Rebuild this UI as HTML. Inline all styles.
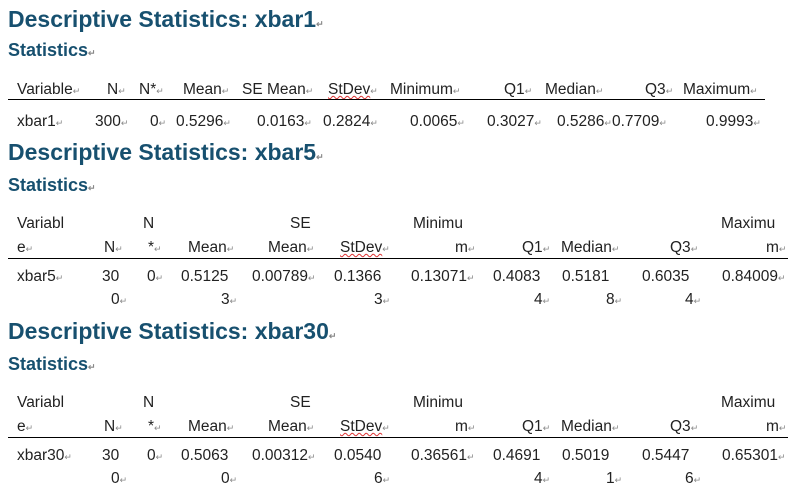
<!DOCTYPE html>
<html><head><meta charset="utf-8"><style>
body{margin:0;width:799px;height:493px;background:#fff;position:relative;overflow:hidden;font-family:"Liberation Sans",sans-serif;color:#222}
div{position:absolute;white-space:nowrap}
.h1{font-size:23px;line-height:23px;font-weight:bold;color:#17506f;left:8px}
.h2{font-size:18px;line-height:18px;font-weight:bold;color:#17506f;left:8px}
.t{font-size:15.5px;line-height:15.5px}
i{font-style:normal;font-size:9px;color:#888}
.ln{height:1px;background:#000;left:8px}
.u{text-decoration:underline wavy #d33;text-decoration-thickness:1px}
</style></head><body>
<div class="h1" style="top:8px">Descriptive Statistics: xbar1<i>↵</i></div>
<div class="h2" style="top:41px">Statistics<i>↵</i></div>
<div class="t" style="top:82px;left:17px">Variable<i>↵</i></div>
<div class="t" style="top:82px;left:107px">N<i>↵</i></div>
<div class="t" style="top:82px;left:139px">N*<i>↵</i></div>
<div class="t" style="top:82px;left:183px">Mean<i>↵</i></div>
<div class="t" style="top:82px;left:242px">SE Mean<i>↵</i></div>
<div class="t" style="top:82px;left:328px"><span class="u">StDev</span><i>↵</i></div>
<div class="t" style="top:82px;left:390px">Minimum<i>↵</i></div>
<div class="t" style="top:82px;left:504px">Q1<i>↵</i></div>
<div class="t" style="top:82px;left:545px">Median<i>↵</i></div>
<div class="t" style="top:82px;left:645px">Q3<i>↵</i></div>
<div class="t" style="top:82px;left:683px">Maximum<i>↵</i></div>
<div class="ln" style="top:99px;width:757px"></div>
<div class="t" style="top:114px;left:17px">xbar1<i>↵</i></div>
<div class="t" style="top:114px;left:95px">300<i>↵</i></div>
<div class="t" style="top:114px;left:150px">0<i>↵</i></div>
<div class="t" style="top:114px;left:176px">0.5296<i>↵</i></div>
<div class="t" style="top:114px;left:257px">0.0163<i>↵</i></div>
<div class="t" style="top:114px;left:323px">0.2824<i>↵</i></div>
<div class="t" style="top:114px;left:410px">0.0065<i>↵</i></div>
<div class="t" style="top:114px;left:487px">0.3027<i>↵</i></div>
<div class="t" style="top:114px;left:557px">0.5286<i>↵</i></div>
<div class="t" style="top:114px;left:612px">0.7709<i>↵</i></div>
<div class="t" style="top:114px;left:706px">0.9993<i>↵</i></div>

<div class="h1" style="top:141px">Descriptive Statistics: xbar5<i>↵</i></div>
<div class="h2" style="top:176px">Statistics<i>↵</i></div>
<div class="t" style="top:216px;left:17px">Variabl</div>
<div class="t" style="top:216px;left:143px">N</div>
<div class="t" style="top:216px;left:290px">SE</div>
<div class="t" style="top:216px;left:413px">Minimu</div>
<div class="t" style="top:216px;left:721px">Maximu</div>
<div class="t" style="top:240px;left:17px">e<i>↵</i></div>
<div class="t" style="top:240px;left:104px">N<i>↵</i></div>
<div class="t" style="top:240px;left:148px">*<i>↵</i></div>
<div class="t" style="top:240px;left:188px">Mean<i>↵</i></div>
<div class="t" style="top:240px;left:268px">Mean<i>↵</i></div>
<div class="t" style="top:240px;left:340px"><span class="u">StDev</span><i>↵</i></div>
<div class="t" style="top:240px;left:455px">m<i>↵</i></div>
<div class="t" style="top:240px;left:522px">Q1<i>↵</i></div>
<div class="t" style="top:240px;left:561px">Median<i>↵</i></div>
<div class="t" style="top:240px;left:670px">Q3<i>↵</i></div>
<div class="t" style="top:240px;left:766px">m<i>↵</i></div>
<div class="ln" style="top:258px;width:780px"></div>
<div class="t" style="top:269px;left:17px">xbar5<i>↵</i></div>
<div class="t" style="top:269px;left:102px">30</div>
<div class="t" style="top:269px;left:147px">0<i>↵</i></div>
<div class="t" style="top:269px;left:181px">0.5125</div>
<div class="t" style="top:269px;left:252px">0.00789<i>↵</i></div>
<div class="t" style="top:269px;left:334px">0.1366</div>
<div class="t" style="top:269px;left:411px">0.13071<i>↵</i></div>
<div class="t" style="top:269px;left:493px">0.4083</div>
<div class="t" style="top:269px;left:562px">0.5181</div>
<div class="t" style="top:269px;left:642px">0.6035</div>
<div class="t" style="top:269px;left:722px">0.84009<i>↵</i></div>
<div class="t" style="top:292px;left:111px">0<i>↵</i></div>
<div class="t" style="top:292px;left:221px">3<i>↵</i></div>
<div class="t" style="top:292px;left:374px">3<i>↵</i></div>
<div class="t" style="top:292px;left:534px">4<i>↵</i></div>
<div class="t" style="top:292px;left:606px">8<i>↵</i></div>
<div class="t" style="top:292px;left:685px">4<i>↵</i></div>

<div class="h1" style="top:320px">Descriptive Statistics: xbar30<i>↵</i></div>
<div class="h2" style="top:355px">Statistics<i>↵</i></div>
<div class="t" style="top:395px;left:17px">Variabl</div>
<div class="t" style="top:395px;left:143px">N</div>
<div class="t" style="top:395px;left:290px">SE</div>
<div class="t" style="top:395px;left:413px">Minimu</div>
<div class="t" style="top:395px;left:721px">Maximu</div>
<div class="t" style="top:419px;left:17px">e<i>↵</i></div>
<div class="t" style="top:419px;left:104px">N<i>↵</i></div>
<div class="t" style="top:419px;left:148px">*<i>↵</i></div>
<div class="t" style="top:419px;left:188px">Mean<i>↵</i></div>
<div class="t" style="top:419px;left:268px">Mean<i>↵</i></div>
<div class="t" style="top:419px;left:340px"><span class="u">StDev</span><i>↵</i></div>
<div class="t" style="top:419px;left:455px">m<i>↵</i></div>
<div class="t" style="top:419px;left:522px">Q1<i>↵</i></div>
<div class="t" style="top:419px;left:561px">Median<i>↵</i></div>
<div class="t" style="top:419px;left:670px">Q3<i>↵</i></div>
<div class="t" style="top:419px;left:766px">m<i>↵</i></div>
<div class="ln" style="top:437px;width:780px"></div>
<div class="t" style="top:448px;left:17px">xbar30<i>↵</i></div>
<div class="t" style="top:448px;left:102px">30</div>
<div class="t" style="top:448px;left:147px">0<i>↵</i></div>
<div class="t" style="top:448px;left:181px">0.5063</div>
<div class="t" style="top:448px;left:252px">0.00312<i>↵</i></div>
<div class="t" style="top:448px;left:334px">0.0540</div>
<div class="t" style="top:448px;left:411px">0.36561<i>↵</i></div>
<div class="t" style="top:448px;left:493px">0.4691</div>
<div class="t" style="top:448px;left:562px">0.5019</div>
<div class="t" style="top:448px;left:642px">0.5447</div>
<div class="t" style="top:448px;left:722px">0.65301<i>↵</i></div>
<div class="t" style="top:471px;left:111px">0<i>↵</i></div>
<div class="t" style="top:471px;left:221px">0<i>↵</i></div>
<div class="t" style="top:471px;left:374px">6<i>↵</i></div>
<div class="t" style="top:471px;left:534px">4<i>↵</i></div>
<div class="t" style="top:471px;left:606px">1<i>↵</i></div>
<div class="t" style="top:471px;left:685px">6<i>↵</i></div>
</body></html>
